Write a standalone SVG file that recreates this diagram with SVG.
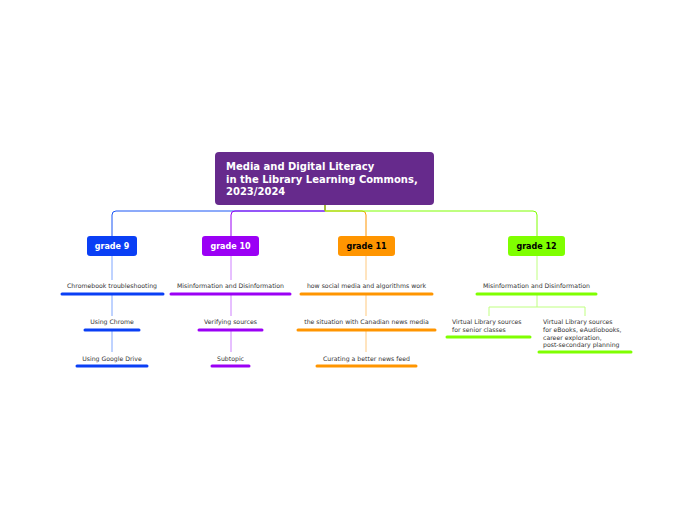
<svg xmlns="http://www.w3.org/2000/svg" width="697" height="520" viewBox="0 0 697 520">
<style>
text{font-family:"DejaVu Sans",Verdana,sans-serif}
.t{font-size:6.2px;fill:#333;text-anchor:middle}
.tl{font-size:6.2px;fill:#333}
.g{font-size:8px;font-weight:bold;text-anchor:middle}
.u{stroke-width:3;stroke-linecap:round;fill:none}
.c{fill:none;stroke-width:1}
</style>
<rect width="697" height="520" fill="#fff"/>
<g id="connectors">
<path class="c" stroke="#1a56f5" d="M325,205 V211 H116 Q112,211 112,215 V236"/>
<path class="c" stroke="#9b00f5" d="M325,205 V211 H235 Q231,211 231,215 V236"/>
<path class="c" stroke="#ff9500" d="M325,205 V211 H362 Q366,211 366,215 V236"/>
<path class="c" stroke="#7fff00" d="M325,205 V211 H533 Q537,211 537,215 V236"/>
<path class="c" stroke="#7fa6ff" d="M112,256 V280 M112,295 V316 M112,331 V352"/>
<path class="c" stroke="#cf80ff" d="M231,256 V280 M231,295 V316 M231,331 V352"/>
<path class="c" stroke="#ffc97f" d="M366,256 V280 M366,295 V316 M366,331 V352"/>
<path class="c" stroke="#bfff80" d="M537,256 V280 M537,295 V307 M489,316 V307 H585 V316"/>
</g>
<g id="root"><rect x="215" y="152" width="219" height="53" rx="4" fill="#662a8c"/>
<text x="226" y="170" font-size="10" font-weight="bold" fill="#fff">Media and Digital Literacy</text>
<text x="226" y="183" font-size="10" font-weight="bold" fill="#fff">in the Library Learning Commons,</text>
<text x="226" y="195" font-size="10" font-weight="bold" fill="#fff">2023/2024</text></g>
<g id="g9"><rect x="87" y="236" width="50" height="20" rx="3" fill="#0a3ff5"/><text class="g" x="112" y="249" fill="#fff">grade 9</text></g>
<g id="g10"><rect x="202" y="236" width="57" height="20" rx="3" fill="#9b00f5"/><text class="g" x="230.5" y="249" fill="#fff">grade 10</text></g>
<g id="g11"><rect x="338" y="236" width="57" height="20" rx="3" fill="#ff9500"/><text class="g" x="366.5" y="249" fill="#000">grade 11</text></g>
<g id="g12"><rect x="508" y="236" width="57" height="20" rx="3" fill="#7fff00"/><text class="g" x="536.5" y="249" fill="#000">grade 12</text></g>
<g id="s9a"><text class="t" x="112" y="288">Chromebook troubleshooting</text><line class="u" stroke="#0a3ff5" x1="62" y1="294" x2="163" y2="294"/></g>
<g id="s9b"><text class="t" x="112" y="324">Using Chrome</text><line class="u" stroke="#0a3ff5" x1="85" y1="330" x2="139" y2="330"/></g>
<g id="s9c"><text class="t" x="112" y="361">Using Google Drive</text><line class="u" stroke="#0a3ff5" x1="77" y1="366" x2="147" y2="366"/></g>
<g id="s10a"><text class="t" x="230.5" y="288">Misinformation and Disinformation</text><line class="u" stroke="#9b00f5" x1="171" y1="294" x2="290" y2="294"/></g>
<g id="s10b"><text class="t" x="230.5" y="324">Verifying sources</text><line class="u" stroke="#9b00f5" x1="199" y1="330" x2="262" y2="330"/></g>
<g id="s10c"><text class="t" x="230.5" y="361">Subtopic</text><line class="u" stroke="#9b00f5" x1="212" y1="366" x2="249" y2="366"/></g>
<g id="s11a"><text class="t" x="366.5" y="288">how social media and algorithms work</text><line class="u" stroke="#ff9500" x1="301" y1="294" x2="432" y2="294"/></g>
<g id="s11b"><text class="t" x="366.5" y="324">the situation with Canadian news media</text><line class="u" stroke="#ff9500" x1="298" y1="330" x2="435" y2="330"/></g>
<g id="s11c"><text class="t" x="366.5" y="361">Curating a better news feed</text><line class="u" stroke="#ff9500" x1="317" y1="366" x2="416" y2="366"/></g>
<g id="s12a"><text class="t" x="536.5" y="288">Misinformation and Disinformation</text><line class="u" stroke="#7fff00" x1="477" y1="294" x2="596" y2="294"/></g>
<g id="s12b"><text class="tl" x="452" y="324">Virtual Library sources</text><text class="tl" x="452" y="332">for senior classes</text><line class="u" stroke="#7fff00" x1="447" y1="337" x2="530" y2="337"/></g>
<g id="s12c"><text class="tl" x="543" y="324">Virtual Library sources</text><text class="tl" x="543" y="332">for eBooks, eAudiobooks,</text><text class="tl" x="543" y="339.5">career exploration,</text><text class="tl" x="543" y="347">post-secondary planning</text><line class="u" stroke="#7fff00" x1="539" y1="352" x2="631" y2="352"/></g>
</svg>
